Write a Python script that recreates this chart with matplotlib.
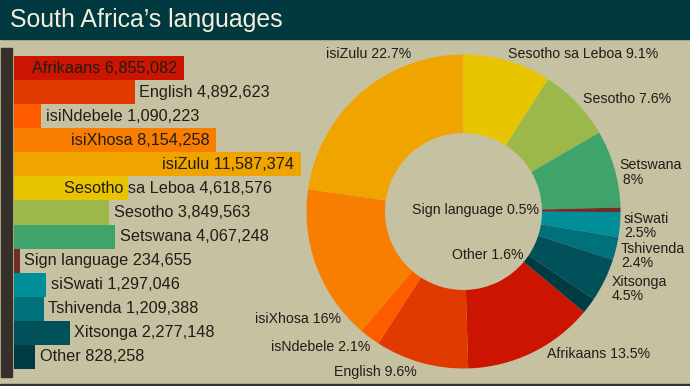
import numpy as np
import matplotlib
matplotlib.use("Agg")
import matplotlib.pyplot as plt
from matplotlib.patches import Rectangle

plt.rcParams['font.family'] = ['Liberation Sans', 'DejaVu Sans']

# datos
languages = ["Afrikaans", "English", "isiNdebele", "isiXhosa", "isiZulu",
             "Sesotho sa Leboa", "Sesotho", "Setswana", "Sign language",
             "siSwati", "Tshivenda", "Xitsonga", "Other"]
speakers = [6855082, 4892623, 1090223, 8154258, 11587374, 4618576, 3849563,
            4067248, 234655, 1297046, 1209388, 2277148, 828258]
pie_labels = ["Afrikaans 13.5%", "English 9.6%", "isNdebele 2.1%", "isiXhosa 16%",
              "isiZulu 22.7%", "Sesotho sa Leboa 9.1%", "Sesotho 7.6%",
              "Setswana\n 8%", "Sign language 0.5%", "siSwati\n2.5%",
              "Tshivenda\n2.4%", "Xitsonga\n4.5%", "Other 1.6%"]
colors = ["#cb1500", "#e03a00", "#ff5c00", "#f77e00", "#f0a400", "#e8c500",
          "#9cb84a", "#3ea46b", "#6f2e27", "#008f98", "#00717a", "#005159",
          "#003a42"]

bg = "#c6c1a0"
txt = "#201d18"

fig = plt.figure(figsize=(6.9, 3.86), dpi=100, facecolor=bg)
W, H = 690, 386

def fx(px):
    return px / W

def fy(py):
    return 1 - py / H

# cabecera
fig.add_artist(Rectangle((0, fy(39)), 1, 39 / H, transform=fig.transFigure,
                         color="#003940", zorder=0))
fig.text(fx(10), fy(19.5), "South Africa\u2019s languages", color="#f3efdc",
         fontsize=17.9, va="center", ha="left")
# linea inferior y barra vertical oscura
fig.add_artist(Rectangle((0, 0), 1, 2 / H, transform=fig.transFigure,
                         color="#35322a", zorder=0))
fig.add_artist(Rectangle((fx(1), fy(377)), 11 / W, 329 / H,
                         transform=fig.transFigure, color="#35302a", zorder=0))

# barras
axb = fig.add_axes([fx(14), fy(369), 287 / W, 313 / H])
axb.set_facecolor("none")
y = np.arange(len(languages))
axb.barh(y, speakers, height=1.0, color=colors)
axb.set_xlim(0, max(speakers))
axb.set_ylim(len(languages) - 0.5, -0.5)
axb.axis("off")

# desplazamiento (px) y alineacion de cada etiqueta respecto al final de la barra
label_offsets = [(-7, "right"), (4, "left"), (5, "left"), (-6, "right"),
                 (-7, "right"), (-64, "left"), (5, "left"), (5, "left"),
                 (4, "left"), (5, "left"), (4, "left"), (4, "left"), (5, "left")]
for i, (lang, val) in enumerate(zip(languages, speakers)):
    dx, ha = label_offsets[i]
    axb.annotate(f"{lang} {val:,}", xy=(val, i), xytext=(dx, 0),
                 textcoords="offset pixels", ha=ha, va="center",
                 fontsize=11.7, color=txt, annotation_clip=False)

# dona
axp = fig.add_axes([fx(306.5), fy(368.5), 314 / W, 314 / H])
axp.set_facecolor("none")
start = 90 + 360 * sum(speakers[:5]) / sum(speakers)
axp.pie(speakers, colors=colors, startangle=start, counterclock=False,
        radius=1, wedgeprops=dict(width=0.5, linewidth=0))
axp.set_xlim(-1, 1)
axp.set_ylim(-1, 1)
axp.set_aspect("equal")
axp.axis("off")

# posiciones de las etiquetas de la dona (unidades del radio)
pie_label_pos = [(0.532, -0.908, "left"), (-0.825, -1.020, "left"),
                 (-0.596, -0.863, "right"), (-0.780, -0.685, "right"),
                 (-0.876, 1.003, "left"), (0.283, 1.003, "left"),
                 (0.761, 0.717, "left"), (0.990, 0.248, "left"),
                 (0.481, 0.010, "right"), (1.022, -0.092, "left"),
                 (1.003, -0.283, "left"), (0.946, -0.494, "left"),
                 (0.379, -0.277, "right")]
for lab, (px, py, ha) in zip(pie_labels, pie_label_pos):
    axp.text(px, py, lab, ha=ha, va="center", fontsize=10.2, color=txt,
             linespacing=1.05, clip_on=False)

fig.savefig("out.png", dpi=100, facecolor=bg)
